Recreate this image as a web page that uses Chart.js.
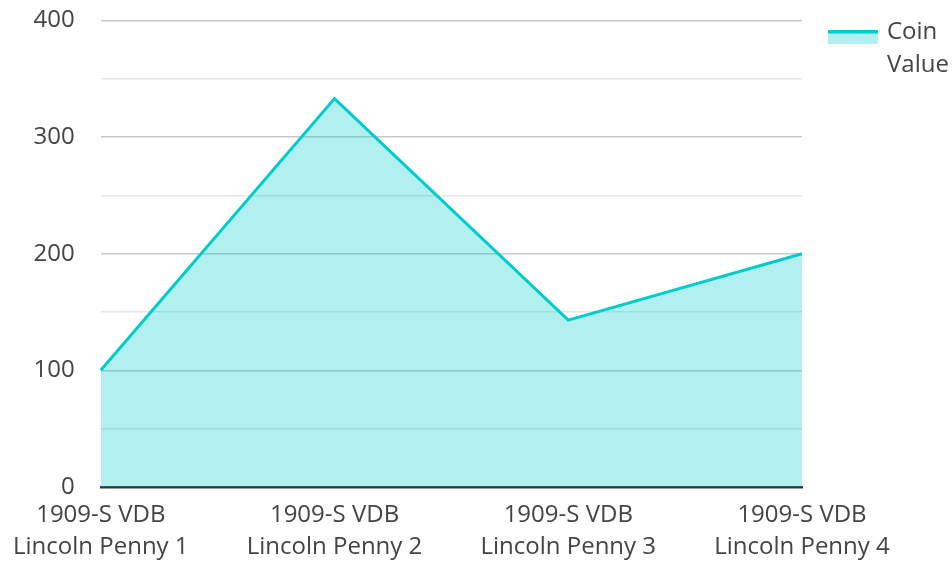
<!DOCTYPE html>
<html>
<head>
<meta charset="utf-8">
<script src="https://cdn.jsdelivr.net/npm/chart.js@4/dist/chart.umd.min.js"></script>
<style>
html,body{margin:0;padding:0;background:#fff;}
#wrap{width:952px;height:561px;}
</style>
</head>
<body>
<div id="wrap"><canvas id="c" width="952" height="561"></canvas></div>
<script>
const categories = [
  ["1909-S VDB", "Lincoln Penny 1"],
  ["1909-S VDB", "Lincoln Penny 2"],
  ["1909-S VDB", "Lincoln Penny 3"],
  ["1909-S VDB", "Lincoln Penny 4"]
];
const coinValues = [100, 333, 143, 200];
const seriesName = ["Coin", "Value"];
const yTickLabels = [0, 100, 200, 300, 400];

const lineColor = "#00cccc";
const fillColor = "rgba(0,204,204,0.3)";
const FONT = "'Open Sans', 'Noto Sans', sans-serif";

const legendPlugin = {
  id: "sideLegend",
  afterDraw(chart) {
    const ctx = chart.ctx;
    ctx.save();
    ctx.fillStyle = fillColor;
    ctx.fillRect(828, 32, 50, 12);
    ctx.fillStyle = lineColor;
    ctx.fillRect(828, 30, 50, 3.5);
    ctx.fillStyle = "#444";
    ctx.font = "24px " + FONT;
    ctx.textBaseline = "middle";
    ctx.textAlign = "left";
    seriesName.forEach((t, i) => ctx.fillText(t, 887, 32 + i * 33));
    ctx.restore();
  }
};

new Chart(document.getElementById("c"), {
  type: "line",
  data: {
    labels: categories,
    datasets: [{
      label: seriesName.join(" "),
      data: coinValues,
      borderColor: lineColor,
      backgroundColor: fillColor,
      borderWidth: 3,
      fill: "origin",
      tension: 0,
      pointRadius: 0,
      pointHoverRadius: 0
    }]
  },
  options: {
    responsive: false,
    animation: false,
    devicePixelRatio: 1,
    layout: { padding: { top: 0, right: 150, left: 0, bottom: 0 } },
    plugins: { legend: { display: false }, tooltip: { enabled: false } },
    scales: {
      x: {
        offset: false,
        z: 1,
        grid: { display: false, drawTicks: false },
        border: { display: true, color: "#333", width: 2.5 },
        ticks: {
          color: "#444",
          font: { family: FONT, size: 24, lineHeight: 1.3 },
          padding: 13,
          maxRotation: 0,
          autoSkip: false
        },
        afterFit(s) { s.height = 74; }
      },
      y: {
        min: 0,
        max: 400,
        border: { display: false },
        grid: {
          drawTicks: true,
          tickLength: 20,
          tickColor: "rgba(0,0,0,0)",
          color: (c) => c.tick.value === 0 ? "rgba(0,0,0,0)" : (c.tick.value % 100 === 0 ? "#c8c8c8" : "#e6e6e6"),
          lineWidth: 1.5
        },
        ticks: {
          stepSize: 50,
          autoSkip: false,
          color: "#444",
          font: { family: FONT, size: 24 },
          padding: 6,
          callback: (v) => yTickLabels.includes(v) ? String(v) : ""
        },
        afterFit(s) { s.width = 100; }
      }
    }
  },
  plugins: [legendPlugin]
});
</script>
</body>
</html>
